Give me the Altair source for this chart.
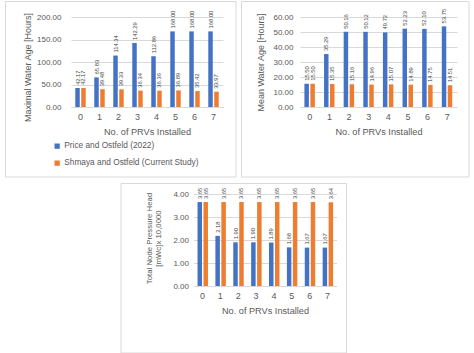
import altair as alt
import pandas as pd

prvs = [0, 1, 2, 3, 4, 5, 6, 7]
series_names = ["Price and Ostfeld (2022)", "Shmaya and Ostfeld (Current Study)"]

max_price = [42.17, 65.83, 114.34, 142.29, 112.86, 168.00, 168.00, 168.00]
max_shmaya = [42.17, 39.48, 39.33, 36.34, 36.36, 36.89, 35.42, 33.97]

mean_price = [15.50, 35.29, 50.16, 50.12, 49.72, 52.23, 52.10, 53.75]
mean_shmaya = [15.50, 15.35, 15.16, 14.96, 15.07, 14.89, 14.75, 14.51]

press_price = [3.65, 2.18, 1.90, 1.90, 1.89, 1.68, 1.67, 1.67]
press_shmaya = [3.65, 3.65, 3.65, 3.65, 3.65, 3.65, 3.65, 3.64]

max_ticks = [0, 50, 100, 150, 200]
mean_ticks = [0, 10, 20, 30, 40, 50, 60]
press_ticks = [0, 1, 2, 3, 4]

FONT = "Liberation Sans"
GRID = "#D9D9D9"
TXT = "#595959"
COLORS = ["#4472C4", "#ED7D31"]


def make_df(a, b):
    rows = []
    for i, p in enumerate(prvs):
        rows.append({"prv": p, "series": series_names[0], "value": a[i]})
        rows.append({"prv": p, "series": series_names[1], "value": b[i]})
    return pd.DataFrame(rows)


def panel(a, b, ytitle, ticks, w, h, lab_pad, title_x, title_y, title_fs, leg_x, frame):
    df = make_df(a, b)
    x = alt.X(
        "prv:O",
        scale=alt.Scale(paddingInner=0.45, paddingOuter=0.225),
        axis=alt.Axis(
            title="No. of PRVs Installed", labelAngle=0, ticks=False,
            domainColor=GRID, labelPadding=5, labelFontSize=9,
            titleFontSize=9.2, titleFontWeight="normal", titleY=24,
            titleBaseline="middle", labelColor=TXT, titleColor=TXT,
        ),
    )
    y = alt.Y(
        "value:Q",
        scale=alt.Scale(domain=[ticks[0], ticks[-1]], nice=False),
        axis=alt.Axis(
            title=ytitle, values=ticks, tickCount=len(ticks), labelOverlap=False,
            format=".2f", domain=False, ticks=False,
            gridColor=GRID, labelPadding=lab_pad, labelFontSize=8,
            titleFontSize=title_fs, titleFontWeight="normal", titleX=title_x,
            titleY=title_y, titleAngle=-90, titleAlign="center",
            titleBaseline="middle", titleLineHeight=9,
            labelColor=TXT, titleColor=TXT,
        ),
    )
    xo = alt.XOffset("series:N", sort=series_names, scale=alt.Scale(paddingInner=0.25))
    base = alt.Chart(df)
    bars = base.mark_bar().encode(
        x=x, y=y, xOffset=xo,
        color=alt.Color(
            "series:N", sort=series_names,
            scale=alt.Scale(domain=series_names, range=COLORS),
            legend=alt.Legend(
                title=None, orient="none", legendX=leg_x, legendY=125,
                direction="vertical", symbolType="square", symbolSize=28,
                rowPadding=8, labelFontSize=8.3, labelColor=TXT,
                labelOffset=3, padding=0, symbolStrokeWidth=0,
            ),
        ),
    )
    labels = base.mark_text(
        angle=270, align="left", baseline="middle", dx=3,
        fontSize=5.8, color="#404040", font=FONT,
    ).encode(x="prv:O", y="value:Q", xOffset=xo, text=alt.Text("value:Q", format=".2f"))
    fx0, fx1, fy0, fy1 = frame
    fr = alt.Chart(pd.DataFrame({"k": [0]})).mark_rect(
        fill="transparent", stroke=GRID, strokeWidth=1
    ).encode(x=alt.value(fx0), x2=alt.value(fx1), y=alt.value(fy0), y2=alt.value(fy1))
    return alt.layer(fr, bars, labels).properties(width=w, height=h)


A = panel(max_price, max_shmaya, "Maximal Water Age [Hours]", max_ticks, 152, 90, 10,
          -44, 50, 9, -18, (-65.5, 165, -15.5, 160))
B = panel(mean_price, mean_shmaya, "Mean Water Age [Hours]", mean_ticks, 157, 90, 7,
          -40, 45, 9, -14, (-58.5, 169, -15.5, 160))
C = panel(press_price, press_shmaya, ["Total Node Pressure Head", "[mWc]x 10,0000"], press_ticks,
          143, 92, 5, -44, 44, 7.8, -27, (-72.5, 153, -10.5, 159))

top = alt.hconcat(A, B, spacing=3)
chart = alt.vconcat(top, C, spacing=4, center=True).properties(
    padding={"left": 4, "top": 0, "right": 4, "bottom": 0}
).configure(font=FONT).configure_view(stroke="transparent")

chart.save("out.html", embed_options={"renderer": "svg", "actions": False})
